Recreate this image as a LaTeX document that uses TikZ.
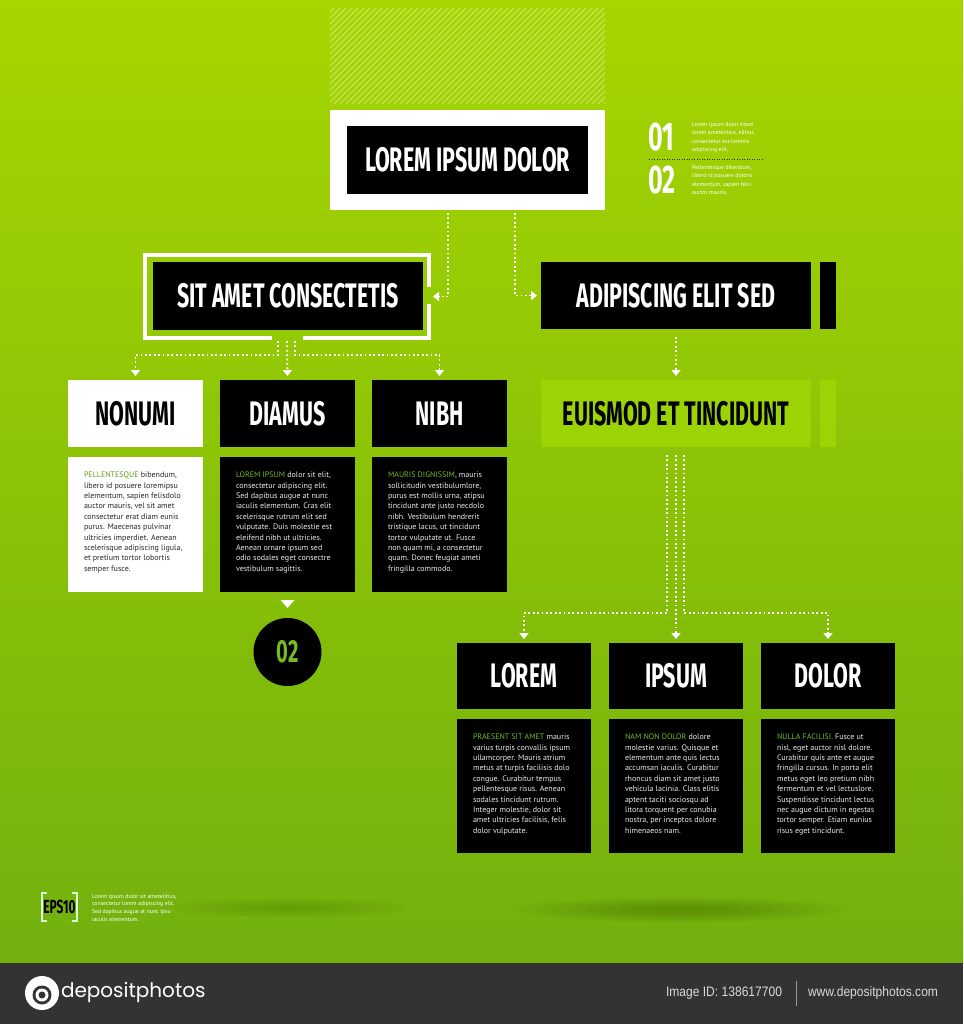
\documentclass[tikz,border=0pt]{standalone}
\usepackage{graphicx}
\usepackage{fontspec}
\setmainfont{PT Sans}
\newfontfamily\headfont{Fira Sans}
\newfontfamily\bodyfont{PT Sans}
\newfontfamily\barfont{Liberation Sans}
\newfontfamily\logofont{Poppins}
\usetikzlibrary{arrows.meta, calc, positioning}

\definecolor{bgtop}{RGB}{166,214,0}
\definecolor{bgbot}{RGB}{114,176,14}
\definecolor{euisgreen}{RGB}{156,211,4}
\definecolor{kwgreen}{RGB}{118,186,36}
\definecolor{barbg}{RGB}{51,51,51}

\newcommand\headtxt[2][34]{\scalebox{0.63}[1]{\headfont\bfseries\fontsize{#1}{#1}\selectfont #2}}
\newcommand\kw[1]{{\color{kwgreen}#1}}

\begin{document}
\begin{tikzpicture}[
	x=1pt, y=-1pt,
	every node/.style = {inner sep=0pt, outer sep=0pt},
	head box/.style = {rectangle, fill=black, text=white, minimum width=135pt, minimum height=67pt},
	white box/.style = {head box, fill=white, text=black},
	text box/.style = {rectangle, fill=black, minimum width=135pt, minimum height=135pt},
	body/.style = {font=\bodyfont\fontsize{8}{10.4}\selectfont, align=left, anchor=north west, text=white!92!black},
	note/.style = {font=\bodyfont\fontsize{5.8}{8.6}\selectfont, align=left, anchor=north west, text=white},
	flow/.style = {white, line width=1.8pt, dash pattern=on 1.8pt off 2.6pt, -{Triangle[width=9pt,length=6pt]}, shorten <=3pt, shorten >=4pt}
]

\useasboundingbox (0,0) rectangle (963,1024);
\shade[top color=bgtop, bottom color=bgbot] (0,0) rectangle (963,963);

% hatched strip above the title
\begin{scope}
	\clip (330,8) rectangle (605,104);
	\foreach \i in {0,...,64}
		\draw[white, opacity=.35, line width=1.2pt] ({232+6*\i},104) -- ++(96,-96);
\end{scope}

% soft shadows
\foreach \i in {1,...,8} {
	\fill[black, opacity=.018] (680,910) ellipse ({180-17*\i} and {14-1.3*\i});
	\fill[black, opacity=.012] (290,908) ellipse ({130-13*\i} and {11-1.1*\i});
}

% title
\node[rectangle, fill=white, minimum width=275pt, minimum height=100pt] (topframe) at (467.5,160) {};
\node[head box, minimum width=241pt, minimum height=68pt] (top) at (topframe) {\headtxt{LOREM IPSUM DOLOR}};

\node[anchor=north west, text=white] (num1) at (648,123) {\headtxt[40]{01}};
\node[note] (note1) at (692,122) {Lorem ipsum dolor sitam\\lorem ametelitius, elitius\\consectetur est loremis\\adipiscing elit.};
\coordinate (sepL) at (649,160);
\coordinate (sepR) at (762,160);
\draw[black!80, line width=1pt, dash pattern=on 1pt off 1.5pt] (sepL) -- (sepR);
\node[anchor=north west, text=white] (num2) at (648,166) {\headtxt[40]{02}};
\node[note] (note2) at (692,165) {Pellentesque bibendum,\\libero id posuere doloris\\elementum, sapien felis\\auctor mauris.};

% second level
\node[minimum width=284pt, minimum height=83pt] (sitframe) at (287,296.5) {};
\draw[white, line width=4.5pt] ([yshift=9.5pt]sitframe.east) |- (sitframe.north west) |- ([xshift=-15pt]sitframe.south)
	([xshift=16pt]sitframe.south) -| ([yshift=-7.5pt]sitframe.east);
\node[head box, minimum width=270pt, minimum height=68pt] (sit) at (288,296) {\headtxt{SIT AMET CONSECTETIS}};

\node[head box, minimum width=270pt] (adip) at (676,295.5) {\headtxt{ADIPISCING ELIT SED}};
\node[head box, minimum width=16pt, right=9pt of adip] (adipbar) {};
\node[head box, fill=euisgreen, text=black, minimum width=270pt, below=51pt of adip] (euis) {\headtxt{EUISMOD ET TINCIDUNT}};
\node[head box, fill=euisgreen, minimum width=16pt, right=9pt of euis] (euisbar) {};

\draw[flow] ([xshift=-19.5pt]topframe.south) |- (sitframe.east);
\draw[flow] ([xshift=47.5pt]topframe.south) |- (adip.west);
\draw[flow, shorten <=8pt] (adip.south) -- (euis.north);

% left branch
\node[white box] (nonumi) at (135.5,413.5) {\headtxt{NONUMI}};
\node[head box, right=17pt of nonumi] (diamus) {\headtxt{DIAMUS}};
\node[head box, right=17pt of diamus] (nibh) {\headtxt{NIBH}};

\node[text box, fill=white, below=10pt of nonumi] (nonumitxt) {};
\node[text box, below=10pt of diamus] (diamustxt) {};
\node[text box, below=10pt of nibh] (nibhtxt) {};

\node[body, text=black!85] at ([xshift=16pt, yshift=-15pt]nonumitxt.north west) {{\color{kwgreen!85!black}PELLENTESQUE} bibendum,\\libero id posuere loremipsu\\elementum, sapien felisdolo\\auctor mauris, vel sit amet\\consectetur erat diam eunis\\purus. Maecenas pulvinar\\ultricies imperdiet. Aenean\\scelerisque adipiscing ligula,\\et pretium tortor lobortis\\semper fusce.};
\node[body] at ([xshift=16pt, yshift=-15pt]diamustxt.north west) {\kw{LOREM IPSUM} dolor sit elit,\\consectetur adipiscing elit.\\Sed dapibus augue at nunc\\iaculis elementum. Cras elit\\scelerisque rutrum elit sed\\vulputate. Duis molestie est\\eleifend nibh ut ultricies.\\Aenean ornare ipsum sed\\odio sodales eget consectre\\vestibulum sagittis.};
\node[body] at ([xshift=16pt, yshift=-15pt]nibhtxt.north west) {\kw{MAURIS DIGNISSIM}, mauris\\sollicitudin vestibulumlore,\\purus est mollis urna, atipsu\\tincidunt ante justo necdolo\\nibh. Vestibulum hendrerit\\tristique lacus, ut tincidunt\\tortor vulputate ut. Fusce\\non quam mi, a consectetur\\quam. Donec feugiat ameti\\fringilla commodo.};

\draw[flow] ([xshift=-9pt]sitframe.south) -- ++(0,17) -| (nonumi.north);
\draw[flow] (sitframe.south) -- (diamus.north);
\draw[flow] ([xshift=8pt]sitframe.south) -- ++(0,17) -| (nibh.north);

\node[circle, fill=black, minimum size=68pt, below=26pt of diamustxt] (badge) {\textcolor{kwgreen}{\headtxt[32]{02}}};
\fill[white] ([xshift=-7pt, yshift=-8pt]diamustxt.south) -- ++(14,0) -- ++(-7,8) -- cycle;

% right branch
\node[head box, minimum width=134pt, minimum height=66pt] (lorem) at (524,676) {\headtxt{LOREM}};
\node[head box, minimum width=134pt, minimum height=66pt, right=18pt of lorem] (ipsum) {\headtxt{IPSUM}};
\node[head box, minimum width=134pt, minimum height=66pt, right=18pt of ipsum] (dolor) {\headtxt{DOLOR}};

\node[text box, minimum width=134pt, minimum height=134pt, below=10pt of lorem] (loremtxt) {};
\node[text box, minimum width=134pt, minimum height=134pt, below=10pt of ipsum] (ipsumtxt) {};
\node[text box, minimum width=134pt, minimum height=134pt, below=10pt of dolor] (dolortxt) {};

\node[body] at ([xshift=16pt, yshift=-15pt]loremtxt.north west) {\kw{PRAESENT SIT AMET} mauris\\varius turpis convallis ipsum\\ullamcorper. Mauris atrium\\metus at turpis facilisis dolo\\congue. Curabitur tempus\\pellentesque risus. Aenean\\sodales tincidunt rutrum.\\Integer molestie, dolor sit\\amet ultricies facilisis, felis\\dolor vulputate.};
\node[body] at ([xshift=16pt, yshift=-15pt]ipsumtxt.north west) {\kw{NAM NON DOLOR} dolore\\molestie varius. Quisque et\\elementum ante quis lectus\\accumsan iaculis. Curabitur\\rhoncus diam sit amet justo\\vehicula lacinia. Class elitis\\aptent taciti sociosqu ad\\litora torquent per conubia\\nostra, per inceptos dolore\\himenaeos nam.};
\node[body] at ([xshift=16pt, yshift=-15pt]dolortxt.north west) {\kw{NULLA FACILISI.} Fusce ut\\nisl, eget auctor nisl dolore.\\Curabitur quis ante et augue\\fringilla cursus. In porta elit\\metus eget leo pretium nibh\\fermentum et vel lectuslore.\\Suspendisse tincidunt lectus\\nec augue dictum in egestas\\tortor semper. Etiam eunius\\risus eget tincidunt.};

\draw[flow, shorten <=8pt] ([xshift=-9pt]euis.south) -- ++(0,166) -| (lorem.north);
\draw[flow, shorten <=8pt] (euis.south) -- (ipsum.north);
\draw[flow, shorten <=8pt] ([xshift=8pt]euis.south) -- ++(0,166) -| (dolor.north);

% eps mark
\draw[white!85!green, line width=2.2pt] (47,893) -- (42,893) -- (42,921) -- (47,921);
\draw[white!85!green, line width=2.2pt] (72,893) -- (77,893) -- (77,921) -- (72,921);
\node (eps) at (59.5,907) {\headtxt[19]{EPS10}};
\node[note, font=\bodyfont\fontsize{5.8}{7.8}\selectfont] (epsnote) at (92,894) {Lorem ipsum dolor sit ametelitius,\\consectetur lorem adipiscing elit.\\Sed dapibus augue at nunc ipsu\\iaculis elementum.};

% footer bar
\fill[barbg] (0,963) rectangle (963,1024);
\fill[white] (42,993) circle (17);
\fill[barbg] (42,995) circle (9.5);
\fill[white] (42,995) circle (6.5);
\fill[barbg] (42,995) circle (3.5);
\node[anchor=west, text=white, font=\logofont\fontsize{20}{20}\selectfont] (logo) at (61,992) {depositphotos};
\node[anchor=east, text=white!85!black, font=\barfont\fontsize{13.7}{13.7}\selectfont] (imgid) at (782,993) {\scalebox{.88}[1]{Image ID: 138617700}};
\coordinate (barsepT) at (796,981);
\coordinate (barsepB) at (796,1006);
\draw[white!60!black, line width=.8pt] (barsepT) -- (barsepB);
\node[anchor=west, text=white!85!black, font=\barfont\fontsize{13.7}{13.7}\selectfont] (url) at (808,993) {\scalebox{.88}[1]{www.depositphotos.com}};

\end{tikzpicture}
\end{document}
